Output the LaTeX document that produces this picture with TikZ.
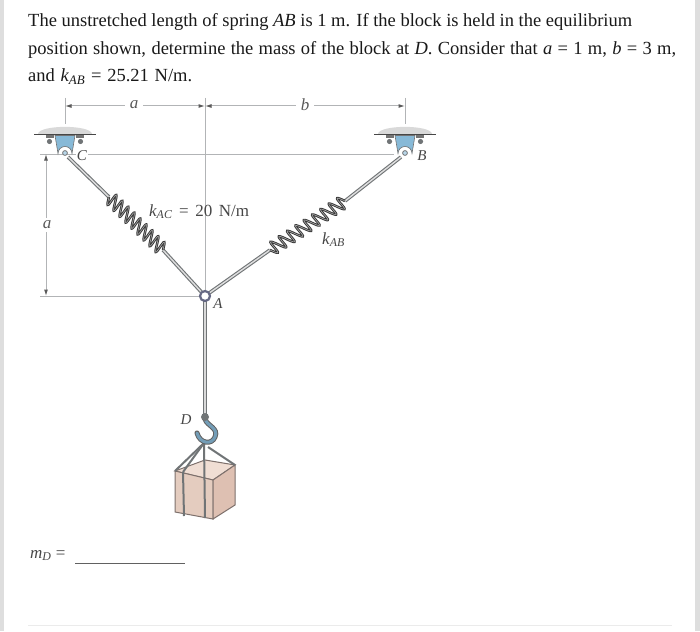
\documentclass[tikz,border=0pt]{standalone}
\usepackage{fontspec}
\setmainfont{Liberation Serif}
\usetikzlibrary{arrows.meta}
\definecolor{dimgray}{RGB}{178,180,182}
\definecolor{clevis}{RGB}{135,185,215}
\definecolor{steel}{RGB}{112,116,118}
\definecolor{boxfront}{RGB}{228,204,191}
\definecolor{boxside}{RGB}{222,192,178}
\definecolor{boxtop}{RGB}{240,222,212}
\definecolor{boxedge}{RGB}{125,112,108}
\tikzset{
  dimline/.style={draw=dimgray,line width=1pt},
  dimarrow/.style={dimline,{Latex[length=6.5pt,width=4pt,black!65]}-{Latex[length=6.5pt,width=4pt,black!65]}},
  lbl/.style={inner sep=0pt,font=\fontsize{15}{17}\selectfont,text=black!72},
  dimlbl/.style={fill=white,inner sep=5pt,font=\fontsize{17}{18}\selectfont\itshape,text=black!65},
  para/.style={inner sep=0pt,anchor=base west,font=\fontsize{18.5}{20}\selectfont,text=black!90},
  rod/.style={draw=steel,line width=3.6pt},
  rodin/.style={draw=white!75!gray,line width=1.4pt},
  coilout/.style={draw=black!78,line width=2.5pt},
  coilin/.style={draw=gray!65,line width=0.6pt},
  strap/.style={draw=steel,line width=2pt},
  hookout/.style={draw=black!62,line width=5pt,line cap=round},
  hookin/.style={draw=clevis!85!black,line width=3pt,line cap=round},
}
\newcommand{\clevisat}[1]{%
  \begin{scope}[shift={(#1,0)}]
    \fill[gray!30] (-27,134) .. controls (-26,124.5) and (26,124.5) .. (27,134) -- cycle;
    \draw[black!72,line width=1.4pt] (-31,134.5) -- (31,134.5);
    \foreach \s in {-1,1}{
      \fill[black!55] (\s*19,135) rectangle (\s*11,138.5);
      \fill[steel] (\s*15.5,141.5) circle (2.6pt);
    }
    \filldraw[fill=clevis,draw=black!55,line width=0.6pt] (-10,135.5) -- (10,135.5) -- (7,153.5) arc[start angle=0,end angle=-180,radius=7] -- cycle;
    \draw[black!60,fill=clevis!60,line width=0.7pt] (0,153) circle (2.4pt);
  \end{scope}}
% #1 start, #2 canvas angle, #3 length, #4 turns, #5 lean
\newcommand{\springat}[5]{%
  \begin{scope}[shift={(#1)},rotate=#2]
    \foreach \sty in {coilout,coilin}{
      \draw[\sty] plot[domain=0:#4,samples=145,smooth,variable=\t]
        ({#3*\t/#4+#5*sin(360*\t)},{6.5*sin(360*\t)});
    }
  \end{scope}}
\begin{document}
\begin{tikzpicture}[x=1pt,y=-1pt]
\useasboundingbox (0,0) rectangle (700,631);
\fill[white] (0,0) rectangle (700,631);
\fill[black!13] (0,0) rectangle (4,631);
\fill[black!13] (695,0) rectangle (700,631);
% statement
\node[para] (l1) at (28,27) {\makebox[604pt][s]{The unstretched length of spring \textit{AB} is 1 m. If the block is held in the equilibrium}};
\node[para] (l2) at (28,54.5) {\makebox[648pt][s]{position shown, determine the mass of the block at \textit{D}. Consider that \textit{a} = 1 m, \textit{b} = 3 m,}};
\node[para] (l3) at (28,82) {\makebox[164pt][s]{and \textit{k\textsubscript{AB}} = 25.21 N/m.}};
% named points
\coordinate (C) at (68,157);
\coordinate (B) at (401,157);
\coordinate (A) at (205,296);
\coordinate (Hook) at (205,417);
\coordinate (CoilC1) at (109,197);
\coordinate (CoilC2) at (163,250);
\coordinate (CoilB1) at (270,250);
\coordinate (CoilB2) at (345,201);
% dimension lines
\coordinate (T1) at (65,98); \coordinate (T1b) at (65,124);
\coordinate (T2) at (205,98);
\coordinate (T3) at (405,98); \coordinate (T3b) at (405,124);
\draw[dimline] (T1) -- (T1b);
\draw[dimline] (T2) -- (A);
\draw[dimline] (T3) -- (T3b);
\coordinate (Ha) at (65,106); \coordinate (Hb) at (205,106); \coordinate (Hc) at (405,106);
\draw[dimarrow] (Ha) -- (Hb);
\draw[dimarrow] (Hb) -- (Hc);
\node[dimlbl] (la1) at (134,105) {a};
\node[dimlbl] (lb) at (305,105) {b};
\coordinate (H1) at (40,154); \coordinate (H2) at (394,154);
\draw[dimline] (H1) -- (H2);
\coordinate (H3) at (40,296);
\draw[dimline] (H3) -- (A);
\coordinate (Va) at (46,154); \coordinate (Vb) at (46,296);
\draw[dimarrow] (Va) -- (Vb);
\node[dimlbl,inner sep=3pt] (la2) at (47,225) {a};
% rods and springs
\foreach \p/\q in {C/CoilC1,CoilC2/A,A/CoilB1,CoilB2/B}{
  \draw[rod] (\p) -- (\q);
  \draw[rodin] (\p) -- (\q);
}
\springat{CoilC1}{-44.5}{75.7}{9}{2.5}
\springat{CoilB1}{33.2}{89.6}{9}{2.5}
% supports
\clevisat{65}
\clevisat{405}
\node[lbl,fill=white,inner sep=1pt] (C1) at (82,156) {\textit{C}};
\node[lbl] (B1) at (422,156) {\textit{B}};
\node[lbl,anchor=base west,font=\fontsize{17}{18}\selectfont] (kac) at (149,216) {\makebox[100pt][s]{\textit{k\textsubscript{AC}} = 20 N/m}};
\node[lbl,anchor=base west,font=\fontsize{17}{18}\selectfont] (kab) at (322,244) {\textit{k\textsubscript{AB}}};
% lower rod
\draw[draw=steel,line width=4.2pt] (A) -- (Hook);
\draw[draw=white!70!gray,line width=1.4pt] (A) -- (Hook);
\filldraw[fill=white,draw=steel!90!blue,line width=2.2pt] (A) circle (5pt);
\node[lbl] (A1) at (218,304) {\textit{A}};
\node[lbl] (D1) at (186,420) {\textit{D}};
% block
\coordinate (BL) at (175,471); \coordinate (BB) at (205,460); \coordinate (BR) at (235,465);
\coordinate (BF) at (213,480); \coordinate (BLb) at (175,512); \coordinate (BFb) at (213,519);
\coordinate (BRb) at (235,505);
\coordinate (HK) at (204,443); \coordinate (HK2) at (208,447);
\coordinate (S1) at (183,472); \coordinate (S1b) at (184,516); \coordinate (S2b) at (205,518);
\filldraw[fill=boxtop,draw=boxedge,line width=1pt] (BL) -- (BB) -- (BR) -- (BF) -- cycle;
\filldraw[fill=boxfront,draw=boxedge,line width=1pt] (BL) -- (BF) -- (BFb) -- (BLb) -- cycle;
\filldraw[fill=boxside,draw=boxedge,line width=1pt] (BF) -- (BR) -- (BRb) -- (BFb) -- cycle;
\draw[strap] (BL) -- (HK);
\draw[strap] (S1) -- (HK);
\draw[strap] (S1) -- (S1b);
\draw[strap] (HK) -- (S2b);
\draw[strap] (HK2) -- (BR);
% hook
\draw[hookout] (205,419) .. controls (207,426) and (219,428) .. (215,437) .. controls (212,445) and (200,444) .. (197,433);
\draw[hookin] (205,419) .. controls (207,426) and (219,428) .. (215,437) .. controls (212,445) and (200,444) .. (197,433);
\fill[steel] (Hook) circle (4pt);
% answer
\node[lbl,anchor=base west,font=\fontsize{17}{18}\selectfont] (md) at (30,558) {\textit{m\textsubscript{D}} =};
\coordinate (Ans1) at (75,563); \coordinate (Ans2) at (185,563);
\draw[black!62,line width=1pt] (Ans1) -- (Ans2);
\coordinate (F1) at (28,625); \coordinate (F2) at (672,625);
\draw[black!8,line width=0.8pt] (F1) -- (F2);
\end{tikzpicture}
\end{document}
